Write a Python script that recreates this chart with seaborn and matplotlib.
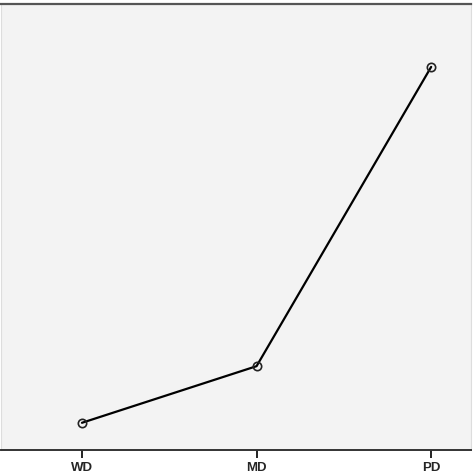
import matplotlib
matplotlib.use("Agg")
import matplotlib.pyplot as plt
import seaborn as sns
import pandas as pd

# grade of differentiation vs. mean value (no y scale shown in source)
grades = ["WD", "MD", "PD"]
values = [0.61, 1.88, 8.59]

df = pd.DataFrame({"grade": grades, "value": values})

sns.set_style("white")
plt.rcParams['font.family'] = ['Liberation Sans', 'DejaVu Sans']

fig = plt.figure(figsize=(4.74, 4.74), dpi=100)
ax = fig.add_axes([0.002, 24 / 474, 0.992, 446 / 474])
ax.set_facecolor("#f3f3f3")

sns.lineplot(data=df, x="grade", y="value", ax=ax, color="black", lw=1.6,
             marker="o", markersize=6, markerfacecolor="none",
             markeredgecolor="#222222", markeredgewidth=1.2, sort=False)

ax.set_xlim(-0.464, 2.229)
ax.set_ylim(0, 10)
ax.set_xlabel("")
ax.set_ylabel("")
ax.set_yticks([])
ax.tick_params(axis="x", length=5.5, width=1.4, color="#222222", pad=3,
               labelsize=9.5, bottom=True)
for lbl in ax.get_xticklabels():
    lbl.set_fontweight("bold")

ax.spines["bottom"].set_color("#333333")
ax.spines["bottom"].set_linewidth(1.4)
ax.spines["top"].set_color("#555555")
ax.spines["top"].set_linewidth(1.6)
ax.spines["left"].set_color("#dddddd")
ax.spines["right"].set_color("#dddddd")

fig.savefig("out.png", dpi=100, facecolor="white")
plt.close(fig)
